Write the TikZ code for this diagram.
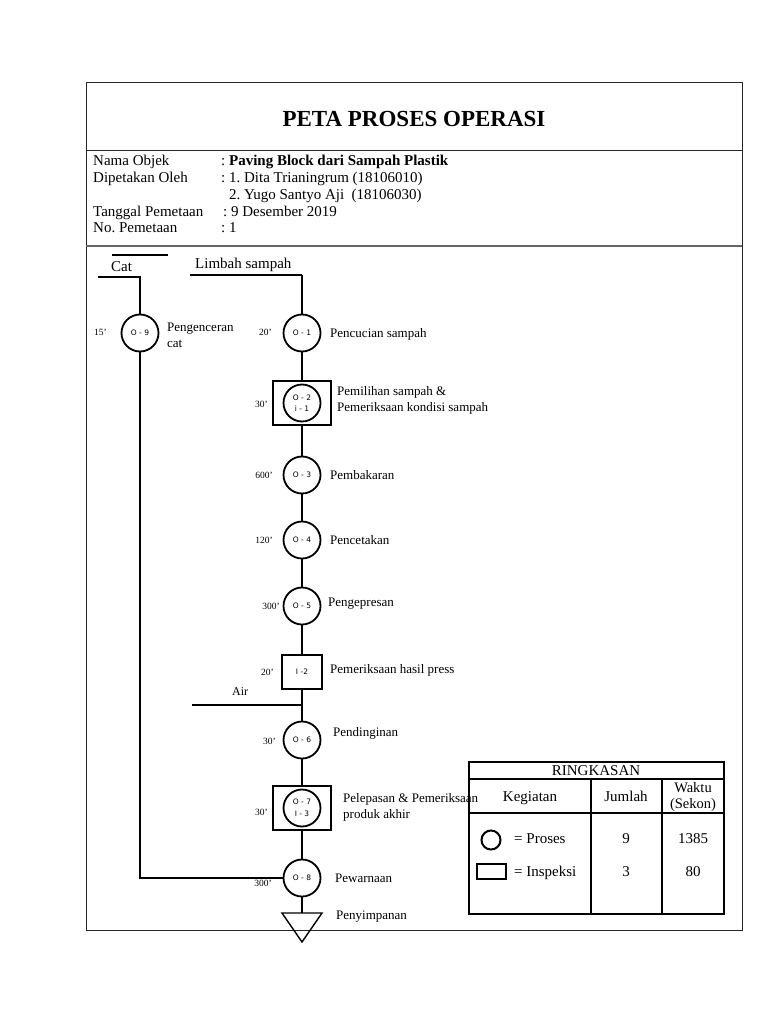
\documentclass[tikz,border=0pt]{standalone}
\usepackage{fontspec}
\setmainfont{Liberation Serif}
\newfontfamily\codefont{DejaVu Sans}
\usetikzlibrary{shapes.geometric,positioning,calc}
\frenchspacing

\begin{document}
\begin{tikzpicture}[x=1pt, y=-1pt,
    opnode/.style={circle, draw=black, line width=1.8pt, minimum size=37pt, inner sep=0pt, align=center, font=\codefont\fontsize{7.5}{11.5}\selectfont},
    bothbox/.style={rectangle, draw=black, line width=1.4pt, minimum width=58pt, minimum height=44pt, inner sep=0pt},
    inspnode/.style={rectangle, draw=black, line width=1.4pt, minimum width=40pt, minimum height=34pt, inner sep=0pt, font=\codefont\fontsize{7.5}{9}\selectfont},
    timelabel/.style={anchor=east, inner sep=0pt, font=\fontsize{9.5}{11}\selectfont},
    desc/.style={anchor=west, inner sep=0pt, align=left, font=\fontsize{13}{16}\selectfont},
    info/.style={anchor=base west, inner sep=0pt, font=\fontsize{15}{17}\selectfont},
    sumtext/.style={inner sep=0pt, align=center, font=\fontsize{15}{15.5}\selectfont},
    frame/.style={draw=black!85, line width=1pt},
    flow/.style={line width=1.8pt}
]
    \useasboundingbox (0,0) rectangle (768,1024);

    % page frame and header
    \draw[frame] (86,83) rectangle (742,930);
    \draw[frame] (86,151) -- (742,151);
    \draw[draw=black!60, line width=2pt] (86,246) -- (742,246);
    \node[inner sep=0pt, font=\bfseries\fontsize{23}{25}\selectfont] (title) at (414,119) {PETA PROSES OPERASI};

    \node[info] (namelbl) at (93,166) {Nama Objek};
    \node[info] (name)    at (221,166) {: \textbf{Paving Block dari Sampah Plastik}};
    \node[info] (bylbl)   at (93,183) {Dipetakan Oleh};
    \node[info] (by1)     at (221,183) {: 1. Dita Trianingrum (18106010)};
    \node[info] (by2)     at (229,200) {2. Yugo Santyo Aji\ \ (18106030)};
    \node[info] (datelbl) at (93,217) {Tanggal Pemetaan};
    \node[info] (date)    at (223,217) {: 9 Desember 2019};
    \node[info] (nolbl)   at (93,233) {No. Pemetaan};
    \node[info] (no)      at (221,233) {: 1};

    % raw materials
    \node[info] (cat) at (111,271) {Cat};
    \draw[line width=1.2pt] (112,255) -- (168,255);
    \coordinate (catin) at (140,277);
    \node[info] (limbah) at (195,268) {Limbah sampah};
    \coordinate (limbahin) at (302,275);
    \draw[line width=1.2pt] (190,275) -- (limbahin);

    % process chart symbols
    \node[opnode] (o9) at (140,333) {O - 9};
    \node[opnode] (o1) at (302,333) {O - 1};
    \node[bothbox] (b1) at (302,403) {};
    \node[opnode] (o2) at (302,403) {O - 2\\i - 1};
    \node[opnode] (o3) at (302,475) {O - 3};
    \node[opnode] (o4) at (302,540) {O - 4};
    \node[opnode] (o5) at (302,606) {O - 5};
    \node[inspnode] (i2) at (302,672) {I -2};
    \coordinate (airin) at (302,705);
    \node[opnode] (o6) at (302,740) {O - 6};
    \node[bothbox] (b2) at (302,808) {};
    \node[opnode] (o7) at (302,808) {O - 7\\I - 3};
    \node[opnode] (o8) at (302,878) {O - 8};
    \coordinate (store) at (302,913);
    \draw[line width=1.4pt] ($(store)+(-20,0)$) -- ($(store)+(20,0)$) -- ($(store)+(0,29)$) -- cycle;

    % times
    \node[timelabel] (t9) at (107,332) {15'};
    \node[timelabel] (t1) at (272,332) {20'};
    \node[timelabel] (t2) at (268,404) {30'};
    \node[timelabel] (t3) at (273,475) {600'};
    \node[timelabel] (t4) at (273,540) {120'};
    \node[timelabel] (t5) at (280,606) {300'};
    \node[timelabel] (ti2) at (274,672) {20'};
    \node[timelabel] (t6) at (276,741) {30'};
    \node[timelabel] (t7) at (268,812) {30'};
    \node[timelabel] (t8) at (272,883) {300'};

    % descriptions
    \node[desc] (d9) at (167,335) {Pengenceran\\cat};
    \node[desc] (d1) at (330,334) {Pencucian sampah};
    \node[desc] (d2) at (337,400) {Pemilihan sampah \&\\Pemeriksaan kondisi sampah};
    \node[desc] (d3) at (330,475) {Pembakaran};
    \node[desc] (d4) at (330,540) {Pencetakan};
    \node[desc] (d5) at (328,604) {Pengepresan};
    \node[desc] (di2) at (330,670) {Pemeriksaan hasil press};
    \node[desc] (d6) at (333,733) {Pendinginan};
    \node[desc] (d7) at (343,807) {Pelepasan \& Pemeriksaan\\produk akhir};
    \node[desc] (d8) at (335,878) {Pewarnaan};
    \node[desc] (ds) at (336,917) {Penyimpanan};
    \node[inner sep=0pt, anchor=west, font=\fontsize{12}{14}\selectfont] (air) at (232,692) {Air};

    % flow lines
    \draw[flow] (98,277) -- (catin) -- (o9);
    \draw[flow] (limbahin) -- (o1);
    \draw[flow] (o1) -- (b1);
    \draw[flow] (b1) -- (o3);
    \draw[flow] (o3) -- (o4);
    \draw[flow] (o4) -- (o5);
    \draw[flow] (o5) -- (i2);
    \draw[flow] (i2) -- (o6);
    \draw[line width=1.4pt] (192,705) -- (airin);
    \draw[flow] (o6) -- (b2);
    \draw[flow] (b2) -- (o8);
    \draw[flow] (o8) -- (store);
    \draw[line width=1.4pt] (o9) -- (o9 |- o8) -- (o8);

    % summary table
    \draw[line width=1.2pt] (469,762) rectangle (724,914);
    \draw[line width=1.2pt] (469,779) -- (724,779);
    \draw[line width=1.2pt] (469,813) -- (724,813);
    \draw[line width=1.2pt] (591,779) -- (591,914);
    \draw[line width=1.2pt] (662,779) -- (662,914);
    \node[sumtext, anchor=base] (ringkasan) at (596,775) {RINGKASAN};
    \node[sumtext, anchor=base] (kegiatan) at (530,801) {Kegiatan};
    \node[sumtext, anchor=base] (jumlah) at (626,801) {Jumlah};
    \node[sumtext, anchor=base, font=\fontsize{14.5}{15.5}\selectfont] (waktu) at (693,808) {Waktu\\(Sekon)};
    \node[circle, draw, line width=2pt, minimum size=19pt, inner sep=0pt] (symop) at (491,840) {};
    \node[rectangle, draw, line width=2pt, minimum width=29pt, minimum height=15pt, inner sep=0pt] (symin) at (491.5,871.5) {};
    \node[sumtext, anchor=base west] (proses) at (514,843) {= Proses};
    \node[sumtext, anchor=base west] (inspeksi) at (514,876) {= Inspeksi};
    \node[sumtext, anchor=base] (nop) at (626,843) {9};
    \node[sumtext, anchor=base] (top) at (693,843) {1385};
    \node[sumtext, anchor=base] (nin) at (626,876) {3};
    \node[sumtext, anchor=base] (tin) at (693,876) {80};
\end{tikzpicture}
\end{document}
